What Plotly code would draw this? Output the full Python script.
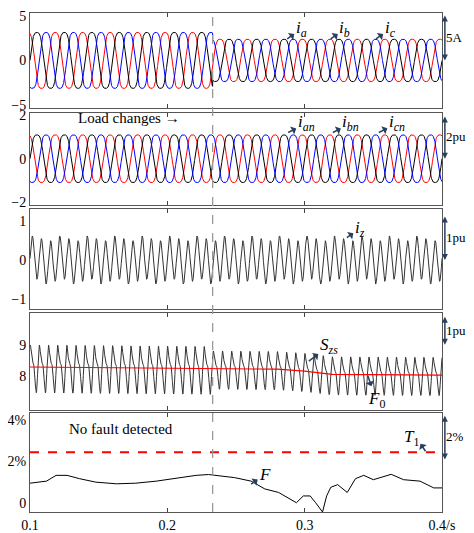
import numpy as np
import plotly.graph_objects as go
from plotly.subplots import make_subplots

# ---- data ----
t_change = 0.233                 # load change instant (s)
f_grid = 50                      # fundamental (Hz)
amp_abc = [3.3, 2.5]             # phase current peak before / after (A)
amp_n = [1.15, 1.15]             # normalised current peak (pu)
flat_top = 0.10                  # 3rd harmonic share giving flat tops
iz_h3 = [0.55, 0.55]             # zero-seq current 150 Hz peak
iz_h1 = [0.07, 0.07]
szs_h3 = [0.62, 0.5]             # S_zs 150 Hz / 300 Hz content
szs_h6 = [0.28, 0.22]
f0_t = [0.10, 0.28, 0.30, 0.32, 0.40]
f0_v = [8.28, 8.21, 8.15, 8.04, 8.02]
F_t = [0.100, 0.112, 0.119, 0.127, 0.136, 0.148, 0.163, 0.177, 0.192, 0.206, 0.221, 0.230,
       0.240, 0.249, 0.261, 0.271, 0.281, 0.288, 0.294, 0.299, 0.304, 0.308, 0.313, 0.316,
       0.319, 0.324, 0.331, 0.337, 0.343, 0.350, 0.363, 0.372, 0.384, 0.394, 0.400]
F_v = [0.95, 1.05, 1.33, 1.33, 1.17, 1.0, 0.92, 0.95, 1.05, 1.17, 1.33, 1.37,
       1.28, 1.22, 1.05, 0.67, 0.5, 0.25, 0.0, 0.33, 0.33, 0.0, -0.45, 0.33,
       0.75, 0.88, 0.5, 1.17, 1.33, 1.12, 1.38, 1.12, 1.05, 0.72, 0.72]
T1 = 2.45

t = np.linspace(0.1, 0.4, 3000)
after = t >= t_change
th = 2 * np.pi * f_grid * (t - 0.1)

def pick(pair):
    return np.where(after, pair[1], pair[0])

def wave(ph):
    a = th + ph
    return (np.sin(a) + flat_top * np.sin(3 * a)) / (1 - flat_top * 0.5)

phases = {'red': 2 * np.pi / 3, 'black': 0, 'blue': -2 * np.pi / 3}
iz = pick(iz_h3) * np.sin(3 * th) + pick(iz_h1) * np.sin(th + 0.6)
szs = np.interp(t, f0_t, f0_v) + pick(szs_h3) * np.sin(3 * th + 0.8) + pick(szs_h6) * np.sin(6 * th + 2.0)

fig = make_subplots(rows=5, cols=1)
for c, ph in phases.items():
    fig.add_trace(go.Scatter(x=t, y=pick(amp_abc) * wave(ph), mode='lines', line=dict(color=c, width=1)), 1, 1)
    fig.add_trace(go.Scatter(x=t, y=pick(amp_n) * wave(ph), mode='lines', line=dict(color=c, width=1)), 2, 1)
fig.add_trace(go.Scatter(x=t, y=iz, mode='lines', line=dict(color='#333', width=1)), 3, 1)
fig.add_trace(go.Scatter(x=t, y=szs, mode='lines', line=dict(color='#333', width=1)), 4, 1)
fig.add_trace(go.Scatter(x=f0_t, y=f0_v, mode='lines', line=dict(color='red', width=1.2)), 4, 1)
fig.add_trace(go.Scatter(x=F_t, y=F_v, mode='lines', line=dict(color='black', width=1)), 5, 1)
fig.add_trace(go.Scatter(x=[0.1, 0.4], y=[T1, T1], mode='lines',
                         line=dict(color='red', width=2, dash='dash')), 5, 1)

domains = [[0.810, 1.0], [0.616, 0.800], [0.407, 0.607], [0.205, 0.399], [0.0, 0.198]]
yranges = [[-5.3, 5.3], [-2.1, 2.1], [-1.25, 1.3], [6.9, 10.03], [-0.45, 4.35]]
yticks = [[-5, 0, 5], [-2, 0, 2], [-1, 0, 1], [8, 9], [0, 2, 4]]
ytext = [None, None, None, None, ['0', '2%', '4%']]
font = dict(family='Liberation Serif', size=14, color='black')

for i in range(5):
    n = '' if i == 0 else str(i + 1)
    fig.layout['yaxis' + n].update(domain=domains[i], range=yranges[i], tickvals=yticks[i],
                                   ticktext=ytext[i], showgrid=False, zeroline=False,
                                   showline=True, mirror=True, linecolor='#555', ticks='',
                                   tickfont=font)
    fig.layout['xaxis' + n].update(range=[0.1, 0.4], showgrid=False, zeroline=False, showline=True,
                                   mirror='allticks', linecolor='#555', ticks='inside', ticklen=4,
                                   tickvals=[0.1, 0.2, 0.3, 0.4],
                                   ticktext=['0.1', '0.2', '0.3', '0.4/s'],
                                   showticklabels=(i == 4), tickfont=font)

fig.add_shape(type='line', xref='x', yref='paper', x0=t_change, x1=t_change, y0=0, y1=1,
              line=dict(color='#999', width=1.3, dash='dash'))

def arrow(text, x, y, ax, ay, row):
    n = '' if row == 1 else str(row)
    fig.add_annotation(x=x, y=y, xref='x' + n, yref='y' + n, ax=ax, ay=ay, text=text,
                       showarrow=True, arrowhead=2, arrowsize=0.8, arrowwidth=1.5,
                       arrowside='start',
                       font=dict(family='Liberation Serif', size=17, color='black'))

arrow('<i>i<sub>a</sub></i>', 0.2873, 2.4, 14, -10, 1)
arrow('<i>i<sub>b</sub></i>', 0.319, 2.4, 14, -10, 1)
arrow('<i>i<sub>c</sub></i>', 0.352, 2.4, 14, -10, 1)
arrow('<i>i<sub>an</sub></i>', 0.288, 1.2, 18, -9, 2)
arrow('<i>i<sub>bn</sub></i>', 0.3205, 1.2, 18, -9, 2)
arrow('<i>i<sub>cn</sub></i>', 0.354, 1.2, 18, -9, 2)
arrow('<i>i<sub>z</sub></i>', 0.3307, 0.57, 13, -9, 3)
arrow('<i>S<sub>zs</sub></i>', 0.303, 8.47, 20, -15, 4)
arrow('', 0.346, 8.0, 4, 12, 4)
fig.add_annotation(x=0.352, y=7.2, xref='x4', yref='y4', text='<i>F</i><sub>0</sub>', showarrow=False,
                   font=dict(family='Liberation Serif', size=17, color='black'))
arrow('<i>F</i>', 0.261, 0.9, 14, -10, 5)
arrow('', 0.388, 2.5, -6, -9, 5)
fig.add_annotation(x=0.378, y=3.15, xref='x5', yref='y5', text='<i>T</i><sub>1</sub>', showarrow=False,
                   font=dict(family='Liberation Serif', size=17, color='black'))
fig.add_annotation(x=0.166, y=3.57, xref='x5', yref='y5', text='No fault detected', showarrow=False,
                   font=dict(family='Liberation Serif', size=15, color='black'))
fig.add_annotation(x=0.172, y=1.86, xref='x2', yref='y2', text='Load changes →', showarrow=False,
                   font=dict(family='Liberation Serif', size=15, color='black'))

# scale bars on the right
bars = [(1, 5.2, 0.0, '5A'), (2, 2.0, 0.0, '2pu'), (3, 1.15, 0.0, '1pu'),
        (4, 9.95, 9.0, '1pu'), (5, 4.3, 2.1, '2%')]
for row, y0, y1, lab in bars:
    n = '' if row == 1 else str(row)
    fig.add_annotation(x=1.007, y=y1, xref='paper', yref='y' + n, ax=0, ay=y0, axref='pixel',
                       ayref='y' + n, text='', showarrow=True, arrowhead=2, startarrowhead=2,
                       arrowside='end+start', arrowsize=0.8, arrowwidth=1.5)
    fig.add_annotation(x=1.004, y=(y0 + y1) / 2, xref='paper', yref='y' + n, text=lab,
                       showarrow=False, xanchor='left',
                       font=dict(family='Liberation Serif', size=13, color='black'))

fig.update_layout(width=466, height=525, margin=dict(l=19, r=32, t=0, b=15),
                  plot_bgcolor='white', paper_bgcolor='white', showlegend=False)
fig.write_html('out.html')
